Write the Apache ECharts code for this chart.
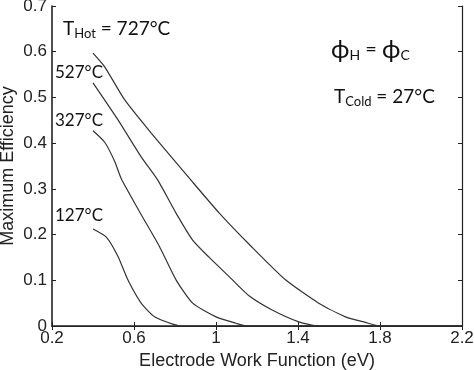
<!DOCTYPE html>
<html>
<head>
<meta charset="utf-8">
<script src="https://cdn.jsdelivr.net/npm/echarts@6/dist/echarts.min.js"></script>
<style>html,body{margin:0;padding:0;background:#fff}#c{width:474px;height:370px}</style>
</head>
<body>
<div id="c"></div>
<script>
const xTicks = [0.2, 0.6, 1, 1.4, 1.8, 2.2];
const yTicks = [0, 0.1, 0.2, 0.3, 0.4, 0.5, 0.6, 0.7];

const x727 = [0.40, 0.457, 0.554, 0.684, 0.878, 1.016, 1.17, 1.339, 1.501, 1.631, 1.728, 1.80, 2.2];
const y727 = [0.597, 0.567, 0.495, 0.422, 0.319, 0.247, 0.175, 0.101, 0.050, 0.020, 0.008, 0.0, 0.0];

const x527 = [0.40, 0.522, 0.635, 0.716, 0.805, 0.886, 0.967, 1.064, 1.161, 1.274, 1.404, 1.50, 2.2];
const y527 = [0.532, 0.451, 0.370, 0.319, 0.247, 0.188, 0.150, 0.108, 0.066, 0.035, 0.009, 0.0, 0.0];

const x327 = [0.40, 0.457, 0.506, 0.538, 0.627, 0.724, 0.805, 0.886, 1.0, 1.097, 1.15, 2.2];
const y327 = [0.427, 0.402, 0.360, 0.322, 0.250, 0.174, 0.101, 0.050, 0.020, 0.006, 0.0, 0.0];

const x127 = [0.40, 0.466, 0.522, 0.570, 0.635, 0.700, 0.789, 0.83, 2.2];
const y127 = [0.212, 0.194, 0.152, 0.101, 0.050, 0.020, 0.004, 0.0, 0.0];

const seriesNames = ['727°C', '527°C', '327°C', '127°C'];
const xs = [x727, x527, x327, x127];
const ys = [y727, y527, y327, y127];

const chart = echarts.init(document.getElementById('c'));
const axisCol = '#222';
const sansFont = 'Liberation Sans';
const annFont = 'Lato';

function pairs(xa, ya) { return xa.map((v, i) => [v, ya[i]]); }

const option = {
  animation: false,
  backgroundColor: '#fff',
  grid: { left: 52, right: 12, top: 6, bottom: 44, containLabel: false, outerBoundsMode: 'none' },
  xAxis: [{
    type: 'value', min: 0.2, max: 2.2,
    name: 'Electrode Work Function (eV)', nameLocation: 'middle', nameGap: 26, nameMoveOverlap: false,
    nameTextStyle: { fontFamily: sansFont, fontSize: 18, color: axisCol },
    axisLine: { show: true, lineStyle: { color: axisCol, width: 1.6 } },
    axisTick: { show: true, inside: true, length: 4, lineStyle: { color: axisCol }, customValues: xTicks },
    axisLabel: { fontFamily: sansFont, fontSize: 17, color: axisCol, margin: 4, customValues: xTicks,
      formatter: v => String(Math.round(v * 10) / 10) },
    splitLine: { show: false }
  }, {
    type: 'value', min: 0.2, max: 2.2, position: 'top',
    axisLine: { show: true, lineStyle: { color: axisCol, width: 1.2 } },
    axisTick: { show: true, inside: true, length: 4, lineStyle: { color: axisCol }, customValues: xTicks },
    axisLabel: { show: false }, splitLine: { show: false }
  }],
  yAxis: [{
    type: 'value', min: 0, max: 0.7, interval: 0.1,
    name: 'Maximum Efficiency', nameLocation: 'middle', nameGap: 35, nameMoveOverlap: false,
    nameTextStyle: { fontFamily: sansFont, fontSize: 18, color: axisCol },
    axisLine: { show: true, lineStyle: { color: axisCol, width: 1.6 } },
    axisTick: { show: true, inside: true, length: 4, lineStyle: { color: axisCol } },
    axisLabel: { fontFamily: sansFont, fontSize: 17, color: axisCol, margin: 5,
      formatter: v => String(Math.round(v * 10) / 10) },
    splitLine: { show: false }
  }, {
    type: 'value', min: 0, max: 0.7, interval: 0.1, position: 'right',
    axisLine: { show: true, lineStyle: { color: axisCol, width: 1.2 } },
    axisTick: { show: true, inside: true, length: 4, lineStyle: { color: axisCol } },
    axisLabel: { show: false }, splitLine: { show: false }
  }],
  series: xs.map((xa, i) => ({
    type: 'line', name: seriesNames[i], data: pairs(xa, ys[i]),
    smooth: 0.2, showSymbol: false, symbol: 'none',
    lineStyle: { color: '#333', width: 1.2 }
  })),
  graphic: [
    { type: 'text', left: 63, top: 19, style: {
      text: '{n|T}{s|Hot}{n| = 727°C}', fill: '#111',
      rich: { n: { fontFamily: annFont, fontSize: 19, fill: '#111' },
              s: { fontFamily: annFont, fontSize: 13, fill: '#111', padding: [10, 0, 0, 0] } } } },
    { type: 'text', left: 55, top: 64, style: { text: '527°C', fontFamily: annFont, fontSize: 17, fill: '#111' } },
    { type: 'text', left: 55, top: 112, style: { text: '327°C', fontFamily: annFont, fontSize: 17, fill: '#111' } },
    { type: 'text', left: 55, top: 207, style: { text: '127°C', fontFamily: annFont, fontSize: 17, fill: '#111' } },
    { type: 'text', left: 331, top: 37, style: {
      text: '{p|ϕ}{s|H}{n| = }{p|ϕ}{s|C}', fill: '#111',
      rich: { p: { fontFamily: annFont, fontSize: 25, fill: '#111' },
              n: { fontFamily: annFont, fontSize: 20, fill: '#111' },
              s: { fontFamily: annFont, fontSize: 14, fill: '#111', padding: [12, 0, 0, 0] } } } },
    { type: 'text', left: 334, top: 87, style: {
      text: '{n|T}{s|Cold}{n| = 27°C}', fill: '#111',
      rich: { n: { fontFamily: annFont, fontSize: 19, fill: '#111' },
              s: { fontFamily: annFont, fontSize: 13, fill: '#111', padding: [10, 0, 0, 0] } } } }
  ]
};
chart.setOption(option);
</script>
</body>
</html>
